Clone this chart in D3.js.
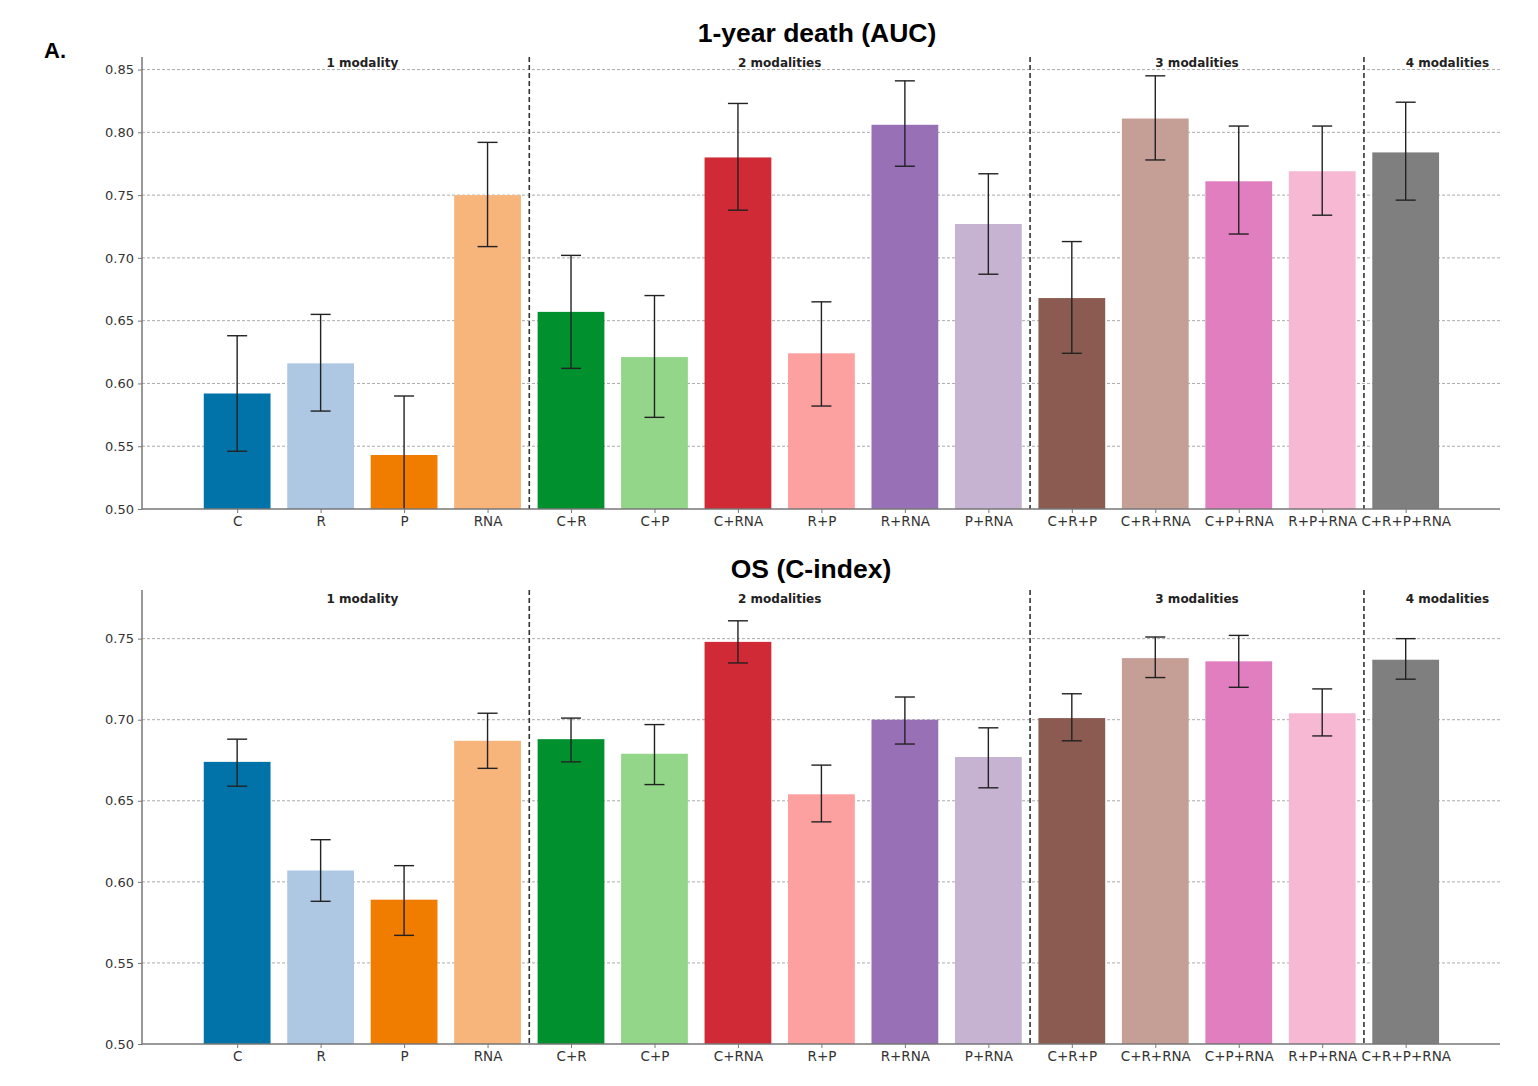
<!DOCTYPE html>
<html>
<head>
<meta charset="utf-8">
<script src="https://cdn.jsdelivr.net/npm/d3@7"></script>
<style>
  body { margin: 0; background: #fff; }
  text { font-family: "DejaVu Sans", sans-serif; }
</style>
</head>
<body>
<div id="chart"></div>
<script>
// data
const categories = ["C", "R", "P", "RNA", "C+R", "C+P", "C+RNA", "R+P", "R+RNA", "P+RNA",
  "C+R+P", "C+R+RNA", "C+P+RNA", "R+P+RNA", "C+R+P+RNA"]
const barColors = ["#0173a9", "#aec8e4", "#f07c00", "#f7b57c", "#00902e", "#93d68a", "#cf2a36",
  "#fca0a0", "#9870b5", "#c6b3d2", "#8b5a50", "#c59e96", "#e07ec0", "#f6b8d3", "#7f7f7f"]

const aucMean = [0.592, 0.616, 0.543, 0.750, 0.657, 0.621, 0.780, 0.624, 0.806, 0.727, 0.668, 0.811, 0.761, 0.769, 0.784]
const aucLow  = [0.546, 0.578, 0.497, 0.709, 0.612, 0.573, 0.738, 0.582, 0.773, 0.687, 0.624, 0.778, 0.719, 0.734, 0.746]
const aucHigh = [0.638, 0.655, 0.590, 0.792, 0.702, 0.670, 0.823, 0.665, 0.841, 0.767, 0.713, 0.845, 0.805, 0.805, 0.824]

const osMean = [0.674, 0.607, 0.589, 0.687, 0.688, 0.679, 0.748, 0.654, 0.700, 0.677, 0.701, 0.738, 0.736, 0.704, 0.737]
const osLow  = [0.659, 0.588, 0.567, 0.670, 0.674, 0.660, 0.735, 0.637, 0.685, 0.658, 0.687, 0.726, 0.720, 0.690, 0.725]
const osHigh = [0.688, 0.626, 0.610, 0.704, 0.701, 0.697, 0.761, 0.672, 0.714, 0.695, 0.716, 0.751, 0.752, 0.719, 0.750]

const groupLabels = ["1 modality", "2 modalities", "3 modalities", "4 modalities"]
const groupCenters = [1.5, 6.5, 11.5, 14.5]
const separators = [3.5, 9.5, 13.5]

const aucTicks = [0.50, 0.55, 0.60, 0.65, 0.70, 0.75, 0.80, 0.85]
const osTicks = [0.50, 0.55, 0.60, 0.65, 0.70, 0.75]

const width = 1538
const height = 1086

const svg = d3.select("#chart")
  .append("svg")
  .attr("width", width)
  .attr("height", height)
  .attr("viewBox", [0, 0, width, height])

svg.append("text")
  .attr("x", 44).attr("y", 58)
  .style("font-family", "'Liberation Sans', Arial, sans-serif")
  .style("font-weight", "bold")
  .style("font-size", "22px")
  .text("A.")

const x = d3.scaleLinear().domain([-1.14, 15.13]).range([142, 1500])
const barW = x(0.8) - x(0)

function drawPanel(opts) {
  const { title, titleX, titleY, top, bottom, yDomain, ticks, mean, low, high, labelY } = opts
  const y = d3.scaleLinear().domain(yDomain).range([bottom, top])
  const g = svg.append("g")

  // grid
  g.selectAll(".grid")
    .data(ticks.slice(1))
    .enter().append("line")
    .attr("x1", x.range()[0]).attr("x2", x.range()[1])
    .attr("y1", d => y(d)).attr("y2", d => y(d))
    .attr("stroke", "#aaa")
    .attr("stroke-width", 1)
    .attr("stroke-dasharray", "3,2")

  const rows = categories.map((c, i) => ({ c, i, m: mean[i], lo: Math.max(low[i], yDomain[0]), hi: high[i], color: barColors[i] }))

  g.selectAll(".bar")
    .data(rows)
    .enter().append("rect")
    .attr("x", d => x(d.i) - barW / 2)
    .attr("width", barW)
    .attr("y", d => y(d.m))
    .attr("height", d => y(yDomain[0]) - y(d.m))
    .attr("fill", d => d.color)

  // separators
  g.selectAll(".sep")
    .data(separators)
    .enter().append("line")
    .attr("x1", d => x(d)).attr("x2", d => x(d))
    .attr("y1", top).attr("y2", bottom)
    .attr("stroke", "#333")
    .attr("stroke-width", 1.6)
    .attr("stroke-dasharray", "5,3")

  // error bars
  const eb = g.selectAll(".err").data(rows).enter().append("g").attr("stroke", "#222").attr("stroke-width", 1.4)
  eb.append("line")
    .attr("x1", d => x(d.i)).attr("x2", d => x(d.i))
    .attr("y1", d => y(d.lo)).attr("y2", d => y(d.hi))
  eb.append("line")
    .attr("x1", d => x(d.i) - 10).attr("x2", d => x(d.i) + 10)
    .attr("y1", d => y(d.hi)).attr("y2", d => y(d.hi))
  eb.filter(d => d.lo > yDomain[0]).append("line")
    .attr("x1", d => x(d.i) - 10).attr("x2", d => x(d.i) + 10)
    .attr("y1", d => y(d.lo)).attr("y2", d => y(d.lo))

  // axes
  const yAxis = g.append("g")
    .attr("transform", `translate(${x.range()[0]},0)`)
    .call(d3.axisLeft(y).tickValues(ticks).tickFormat(d3.format(".2f")).tickSize(4).tickPadding(4))
  const xAxis = g.append("g")
    .attr("transform", `translate(0,${bottom})`)
    .call(d3.axisBottom(x).tickValues(d3.range(categories.length)).tickFormat(i => categories[i]).tickSize(4).tickPadding(3))
  for (const ax of [yAxis, xAxis]) {
    ax.select(".domain").attr("stroke", "#777").attr("stroke-width", 1.5)
    ax.selectAll(".tick line").attr("stroke", "#777")
    ax.selectAll(".tick text").attr("fill", "#333").style("font-size", "13px")
  }
  xAxis.selectAll(".tick text").style("font-size", "13.5px")
  xAxis.select(".domain").attr("d", `M${x.range()[0]},0H${x.range()[1]}`)
  yAxis.select(".domain").attr("d", `M0,${top}V${bottom}`)

  // group labels
  g.selectAll(".grp")
    .data(groupLabels)
    .enter().append("text")
    .attr("x", (d, i) => x(groupCenters[i]))
    .attr("y", labelY)
    .attr("text-anchor", "middle")
    .style("font-size", "12px")
    .style("font-weight", "bold")
    .attr("fill", "#222")
    .text(d => d)

  svg.append("text")
    .attr("x", titleX)
    .attr("y", titleY)
    .attr("text-anchor", "middle")
    .style("font-family", "'Liberation Sans', Arial, sans-serif")
    .style("font-weight", "bold")
    .style("font-size", "26.5px")
    .text(title)
}

drawPanel({ title: "1-year death (AUC)", titleX: 817, titleY: 42, top: 57, bottom: 509, yDomain: [0.5, 0.86],
  ticks: aucTicks, mean: aucMean, low: aucLow, high: aucHigh, labelY: 67 })
drawPanel({ title: "OS (C-index)", titleX: 811, titleY: 578, top: 590, bottom: 1044, yDomain: [0.5, 0.78],
  ticks: osTicks, mean: osMean, low: osLow, high: osHigh, labelY: 603 })
</script>
</body>
</html>
